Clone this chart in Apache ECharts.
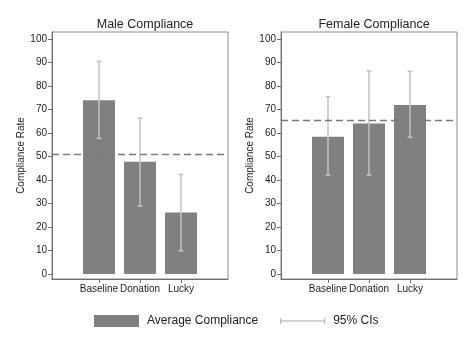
<!DOCTYPE html>
<html>
<head>
<meta charset="utf-8">
<script src="https://cdn.jsdelivr.net/npm/echarts@6/dist/echarts.min.js"></script>
<style>html,body{margin:0;padding:0;background:#fff}#c{width:474px;height:344px}</style>
</head>
<body>
<div id="c"></div>
<script>
var categories = ['Baseline', 'Donation', 'Lucky'];
var panelTitles = ['Male Compliance', 'Female Compliance'];
var maleMeans = [74.0, 47.8, 26.2];
var maleLower = [57.7, 28.9, 9.9];
var maleUpper = [90.5, 66.4, 42.4];
var maleReference = 50.8;
var femaleMeans = [58.4, 64.1, 71.9];
var femaleLower = [42.1, 42.1, 58.2];
var femaleUpper = [75.4, 86.4, 86.3];
var femaleReference = 65.5;
var yTicks = [0, 10, 20, 30, 40, 50, 60, 70, 80, 90, 100];
var xPositions = [1, 2, 3];

var FONT = 'Liberation Sans, Arial, Helvetica, sans-serif';
var BAR = '#808080';
var CI = '#c2c2c2';
var AXIS = '#6e6e6e';

var chart = echarts.init(document.getElementById('c'), null, {renderer: 'canvas'});

var grids = [
  {left: 52, right: 246, top: 32, bottom: 65},
  {left: 281, right: 17, top: 32, bottom: 65}
];
var panels = [
  {means: maleMeans, lower: maleLower, upper: maleUpper, ref: maleReference},
  {means: femaleMeans, lower: femaleLower, upper: femaleUpper, ref: femaleReference}
];

var option = {
  animation: false,
  textStyle: {fontFamily: FONT},
  title: panelTitles.map(function (t, i) {
    return {
      text: t,
      left: i === 0 ? 140 : 369,
      top: 13,
      textAlign: 'center',
      textStyle: {fontFamily: FONT, fontSize: 12.5, fontWeight: 'normal', color: '#222'}
    };
  }),
  legend: {
    left: 89,
    top: 310,
    itemWidth: 45,
    itemHeight: 12,
    itemGap: 22,
    textStyle: {fontFamily: FONT, fontSize: 12, color: '#222', padding: [0, 0, 0, 3]},
    data: [
      {name: 'Average Compliance', icon: 'rect'},
      {name: '95% CIs', icon: 'path://M0,3 L0,9 L1,9 L1,6.4 L44,6.4 L44,9 L45,9 L45,3 L44,3 L44,5.6 L1,5.6 L1,3 Z'}
    ]
  },
  grid: grids.map(function (g) {
    return {left: g.left, right: g.right, top: g.top, bottom: g.bottom, show: true,
      borderColor: '#8a8a8a', borderWidth: 1, backgroundColor: '#fff'};
  }),
  xAxis: grids.map(function (g, i) {
    return {
      type: 'value', gridIndex: i, min: -0.146, max: 4.146,
      splitLine: {show: false},
      axisLine: {show: true, onZero: false, lineStyle: {color: AXIS, width: 1}},
      axisTick: {show: true, length: 4, customValues: xPositions, lineStyle: {color: AXIS}},
      axisLabel: {
        margin: 5, fontSize: 10, color: '#222', fontFamily: FONT,
        customValues: xPositions,
        formatter: function (v) { return categories[Math.round(v) - 1] || ''; }
      }
    };
  }),
  yAxis: grids.map(function (g, i) {
    return {
      type: 'value', gridIndex: i, min: -2.1, max: 103,
      name: 'Compliance Rate', nameLocation: 'middle', nameGap: 23, nameRotate: 90,
      nameTextStyle: {fontFamily: FONT, fontSize: 10, color: '#222'},
      splitLine: {show: false},
      axisLine: {show: true, onZero: false, lineStyle: {color: AXIS, width: 1}},
      axisTick: {show: true, length: 4, customValues: yTicks, lineStyle: {color: AXIS}},
      axisLabel: {margin: 5, fontSize: 10, color: '#222', fontFamily: FONT, customValues: yTicks}
    };
  }),
  series: []
};

panels.forEach(function (p, i) {
  option.series.push({
    name: 'Average Compliance',
    type: 'bar',
    xAxisIndex: i, yAxisIndex: i,
    barWidth: 32,
    itemStyle: {color: BAR},
    data: xPositions.map(function (x, k) { return [x, p.means[k]]; }),
    markLine: {
      silent: true,
      symbol: ['none', 'none'],
      label: {show: false},
      lineStyle: {color: '#7a7a7a', type: [7, 4], width: 1.3},
      data: [{yAxis: p.ref}]
    },
    z: 2
  });
  option.series.push({
    name: '95% CIs',
    type: 'custom',
    xAxisIndex: i, yAxisIndex: i,
    itemStyle: {color: '#a8a8a8'},
    data: xPositions.map(function (x, k) { return [x, p.lower[k], p.upper[k]]; }),
    renderItem: function (params, api) {
      var lo = api.coord([api.value(0), api.value(1)]);
      var hi = api.coord([api.value(0), api.value(2)]);
      var cap = 2.5;
      var st = {stroke: CI, lineWidth: 1.5};
      return {
        type: 'group',
        children: [
          {type: 'line', shape: {x1: lo[0], y1: lo[1], x2: hi[0], y2: hi[1]}, style: st},
          {type: 'line', shape: {x1: lo[0] - cap, y1: lo[1], x2: lo[0] + cap, y2: lo[1]}, style: st},
          {type: 'line', shape: {x1: hi[0] - cap, y1: hi[1], x2: hi[0] + cap, y2: hi[1]}, style: st}
        ]
      };
    },
    z: 3
  });
});

chart.setOption(option);
</script>
</body>
</html>
